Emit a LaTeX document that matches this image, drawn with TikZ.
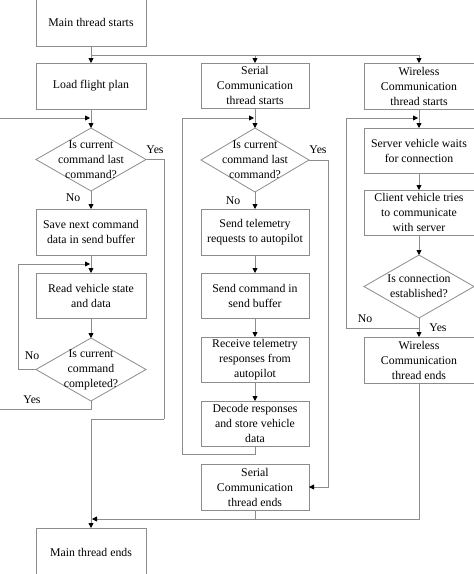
\documentclass[tikz,border=0pt]{standalone}
\usepackage{fontspec}
\setmainfont{Liberation Serif}
\usetikzlibrary{shapes.geometric,arrows.meta}
\definecolor{linegray}{RGB}{140,140,140}
\tikzset{
  box/.style={draw=linegray, line width=0.8pt, minimum width=110pt, align=center, inner sep=0pt, outer sep=0pt},
  decision/.style={draw=linegray, line width=0.8pt, diamond, minimum width=110pt, minimum height=63pt, inner sep=0pt, outer sep=0pt},
  flow/.style={draw=linegray, line width=0.8pt},
  arr/.style={flow, -{Triangle[length=5pt,width=5pt,color=black]}},
}
\begin{document}
\begin{tikzpicture}[x=1pt,y=-1pt,font=\fontsize{11.8}{15}\selectfont]
            \useasboundingbox (0,0) rectangle (474,574);
            % main thread
            \node[box, minimum height=47pt] (start) at (91,22.5) {Main thread starts};
            \node[box, minimum height=46pt] (load) at (91,86) {Load flight plan};
            \node[decision] (last1) at (91,159.5) {};
            \node[align=center] (last1t) at (last1) {Is current\\command last\\command?};
            \node[box, minimum height=46pt] (save) at (91,232) {Save next command\\data in send buffer};
            \node[box, minimum height=45pt] (read) at (91,295.5) {Read vehicle state\\and data};
            \node[decision] (done) at (91,369.5) {};
            \node[align=center] (donet) at (done) {Is current\\command\\completed?};
            \node[box, minimum height=48pt] (mainend) at (91,552) {Main thread ends};
            % serial thread
            \node[box, minimum width=108pt, minimum height=45pt] (serstart) at (255,85.5) {Serial\\Communication\\thread starts};
            \node[decision, minimum width=108pt, minimum height=64pt] (last2) at (255,160) {};
            \node[align=center] (last2t) at (last2) {Is current\\command last\\command?};
            \node[box, minimum width=108pt, minimum height=46pt] (telreq) at (255,232) {Send telemetry\\requests to autopilot};
            \node[box, minimum width=108pt, minimum height=45pt] (sendcmd) at (255,295.5) {Send command in\\send buffer};
            \node[box, minimum width=108pt, minimum height=45pt] (recv) at (255,359.5) {Receive telemetry\\responses from\\autopilot};
            \node[box, minimum width=108pt, minimum height=45pt] (decode) at (255,423.5) {Decode responses\\and store vehicle\\data};
            \node[box, minimum width=108pt, minimum height=46pt] (serend) at (255,487) {Serial\\Communication\\thread ends};
            % wireless thread
            \node[box, minimum height=46pt] (wlstart) at (419,86) {Wireless\\Communication\\thread starts};
            \node[box, minimum height=45pt] (waitc) at (419,150.5) {Server vehicle waits\\for connection};
            \node[box, minimum height=45pt] (client) at (419,212.5) {Client vehicle tries\\to communicate\\with server};
            \node[decision] (conn) at (419,286.5) {};
            \node[align=center] (connt) at (conn) {Is connection\\established?};
            \node[box, minimum height=46pt] (wlend) at (419,360) {Wireless\\Communication\\thread ends};
            % junctions
            \coordinate (split) at (91,55);
            \coordinate (in1) at (91,118);
            \coordinate (in1s) at (0,118);
            \coordinate (back1) at (91,264);
            \coordinate (yes1) at (164,419);
            \coordinate (out1) at (0,409);
            \coordinate (in2) at (255,118);
            \coordinate (loop2) at (182,118);
            \coordinate (in3) at (419,118);
            \coordinate (loop3) at (346,118);
            \coordinate (yes3) at (419,328);
            \coordinate (merge) at (91,519);
            % connectors
            \draw[flow] (start) -- (split);
            \draw[arr] (split) -- (load);
            \draw[arr] (split) -| (wlstart);
            \draw[arr] (serstart |- split) -- (serstart);
            \draw[flow] (load) -- (in1);
            \draw[arr] (in1) -- (last1);
            \draw[arr, shorten >=1pt] (in1s) -- (in1);
            \draw[flow] (last1.east) -| (yes1);
            \draw[arr] (yes1) -| (mainend);
            \draw[arr] (last1) -- (save);
            \draw[flow] (save) -- (back1);
            \draw[arr] (back1) -- (read);
            \draw[arr] (read) -- (done);
            \draw[arr, shorten >=1pt] (done.west) -- ++(-18,0) |- (back1);
            \draw[flow] (done.south) |- (out1);
            \draw[flow] (serstart) -- (in2);
            \draw[arr] (in2) -- (last2);
            \draw[arr] (last2) -- (telreq);
            \draw[arr] (telreq) -- (sendcmd);
            \draw[arr] (sendcmd) -- (recv);
            \draw[arr] (recv) -- (decode);
            \draw[arr, shorten >=1pt] (decode.south) -- ++(0,8) -| (loop2) -- (in2);
            \draw[arr] (last2.east) -- ++(19,0) |- (serend);
            \draw[flow] (serend) -- (serend |- merge);
            \draw[flow] (wlstart) -- (in3);
            \draw[arr] (in3) -- (waitc);
            \draw[arr] (waitc) -- (client);
            \draw[arr] (client) -- (conn);
            \draw[arr] (conn) -- (wlend);
            \draw[arr, shorten >=1pt] (yes3) -| (loop3) -- (in3);
            \draw[arr, shorten >=1pt] (wlend) |- (merge);
            % labels
            \node (yes1l) at (155,150) {Yes};
            \node (no1l) at (73,198) {No};
            \node (no2l) at (32,356) {No};
            \node (yes2l) at (32,400) {Yes};
            \node (yes3l) at (318,150) {Yes};
            \node (no3l) at (233,201) {No};
            \node (no4l) at (365,319) {No};
            \node (yes4l) at (438,328) {Yes};
        \end{tikzpicture}
\end{document}
